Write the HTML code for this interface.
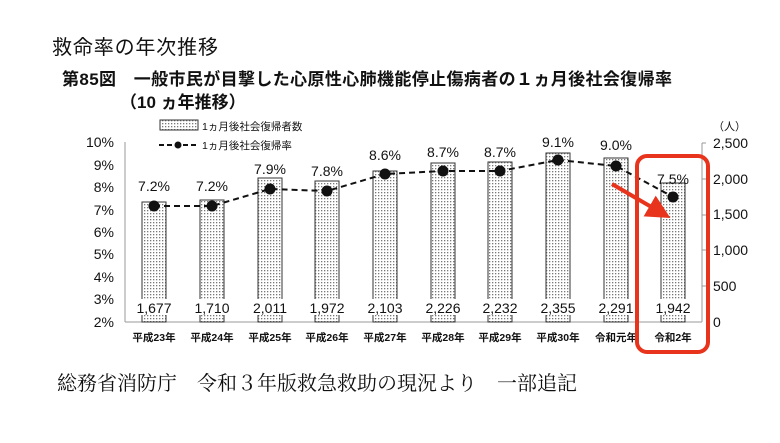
<!DOCTYPE html><html><head><meta charset="utf-8"><style>
body{margin:0;background:#fff;width:780px;height:438px;overflow:hidden}
text{font-family:"Liberation Sans","Noto Sans CJK JP",sans-serif;fill:#111}
</style></head><body>
<svg width="780" height="438" viewBox="0 0 780 438" xmlns="http://www.w3.org/2000/svg">
<defs><pattern id="dots" width="3" height="3" patternUnits="userSpaceOnUse"><rect width="3" height="3" fill="#fff"/><rect width="1.3" height="1.3" fill="#777"/></pattern>
<marker id="ah" markerWidth="6" markerHeight="6" refX="3" refY="3" orient="auto" markerUnits="strokeWidth"><path d="M0,0 L6,3 L0,6 z" fill="#e8341c"/></marker></defs>
<text x="52" y="54" font-size="20" textLength="166">救命率の年次推移</text>
<text x="62" y="85" font-size="17" font-weight="bold" textLength="610">第85図　一般市民が目撃した心原性心肺機能停止傷病者の１ヵ月後社会復帰率</text>
<text x="120" y="108" font-size="17" font-weight="bold">（10 ヵ年推移）</text>
<text x="57" y="390" font-size="20" textLength="520" style="font-family:'Liberation Serif','Noto Serif CJK SC',serif">総務省消防庁　令和３年版救急救助の現況より　一部追記</text>
<!-- legend -->
<rect x="160" y="120" width="38" height="10" fill="url(#dots)" stroke="#333" stroke-width="1"/>
<text x="202" y="130" font-size="10.5">1ヵ月後社会復帰者数</text>
<line x1="159" y1="145" x2="198" y2="145" stroke="#111" stroke-width="2" stroke-dasharray="5,3"/>
<circle cx="178" cy="145" r="3.5" fill="#111"/>
<text x="202" y="149" font-size="10.5">1ヵ月後社会復帰率</text>
<!-- axes -->
<line x1="125" y1="142" x2="125" y2="322" stroke="#999"/>
<line x1="125" y1="322" x2="702" y2="322" stroke="#999"/>
<line x1="702" y1="143" x2="702" y2="322" stroke="#999"/>
<g font-size="14" text-anchor="end">
<text x="114" y="147">10%</text><text x="114" y="170">9%</text><text x="114" y="192">8%</text><text x="114" y="215">7%</text><text x="114" y="237">6%</text><text x="114" y="259">5%</text><text x="114" y="282">4%</text><text x="114" y="304">3%</text><text x="114" y="327">2%</text>
</g>
<g stroke="#999"><line x1="702" y1="143" x2="706" y2="143"/><line x1="702" y1="179" x2="706" y2="179"/><line x1="702" y1="215" x2="706" y2="215"/><line x1="702" y1="250" x2="706" y2="250"/><line x1="702" y1="286" x2="706" y2="286"/></g>
<g font-size="14"><text x="713" y="148">2,500</text><text x="713" y="184">2,000</text><text x="713" y="219">1,500</text><text x="713" y="255">1,000</text><text x="713" y="291">500</text><text x="713" y="327">0</text></g>
<text x="713" y="130" font-size="11">（人）</text>
<!-- bars -->
<g fill="url(#dots)" stroke="#333" stroke-width="1">
<rect x="142" y="202" width="24" height="120"/><rect x="200" y="200" width="24" height="122"/><rect x="258" y="178" width="24" height="144"/><rect x="315" y="181" width="24" height="141"/><rect x="373" y="171" width="24" height="151"/><rect x="431" y="163" width="24" height="159"/><rect x="488" y="162" width="24" height="160"/><rect x="546" y="153" width="24" height="169"/><rect x="604" y="158" width="24" height="164"/><rect x="661" y="183" width="24" height="139"/>
</g>
<g fill="#fff"><rect x="138" y="299" width="33" height="16"/><rect x="196" y="299" width="33" height="16"/><rect x="254" y="299" width="33" height="16"/><rect x="311" y="299" width="33" height="16"/><rect x="369" y="299" width="33" height="16"/><rect x="427" y="299" width="33" height="16"/><rect x="484" y="299" width="33" height="16"/><rect x="542" y="299" width="33" height="16"/><rect x="600" y="299" width="33" height="16"/><rect x="657" y="299" width="33" height="16"/></g>
<g font-size="14" text-anchor="middle">
<text x="154" y="313">1,677</text><text x="212" y="313">1,710</text><text x="270" y="313">2,011</text><text x="327" y="313">1,972</text><text x="385" y="313">2,103</text><text x="443" y="313">2,226</text><text x="500" y="313">2,232</text><text x="558" y="313">2,355</text><text x="616" y="313">2,291</text><text x="673" y="313">1,942</text>
</g>
<polyline points="154,206 212,206 270,189 327,191 385,174 443,171 500,171 558,160 616,166 673,197" fill="none" stroke="#111" stroke-width="2" stroke-dasharray="6,4"/>
<g fill="#111"><circle cx="154" cy="206" r="5.5"/><circle cx="212" cy="206" r="5.5"/><circle cx="270" cy="189" r="5.5"/><circle cx="327" cy="191" r="5.5"/><circle cx="385" cy="174" r="5.5"/><circle cx="443" cy="171" r="5.5"/><circle cx="500" cy="171" r="5.5"/><circle cx="558" cy="160" r="5.5"/><circle cx="616" cy="166" r="5.5"/><circle cx="673" cy="197" r="5.5"/></g>
<g font-size="14" text-anchor="middle">
<text x="154" y="191">7.2%</text><text x="212" y="191">7.2%</text><text x="270" y="174">7.9%</text><text x="327" y="176">7.8%</text><text x="385" y="160">8.6%</text><text x="443" y="157">8.7%</text><text x="500" y="157">8.7%</text><text x="558" y="147">9.1%</text><text x="616" y="150">9.0%</text><text x="673" y="184">7.5%</text>
</g>
<g font-size="10.5" text-anchor="middle" font-weight="bold">
<text x="154" y="341">平成23年</text><text x="212" y="341">平成24年</text><text x="270" y="341">平成25年</text><text x="327" y="341">平成26年</text><text x="385" y="341">平成27年</text><text x="443" y="341">平成28年</text><text x="500" y="341">平成29年</text><text x="558" y="341">平成30年</text><text x="616" y="341">令和元年</text><text x="673" y="341">令和2年</text>
</g>
<rect x="637" y="156" width="71" height="196" rx="10" fill="none" stroke="#e8341c" stroke-width="4"/>
<line x1="612" y1="184" x2="660" y2="212" stroke="#e8341c" stroke-width="4" marker-end="url(#ah)"/>
</svg>
</body></html>
